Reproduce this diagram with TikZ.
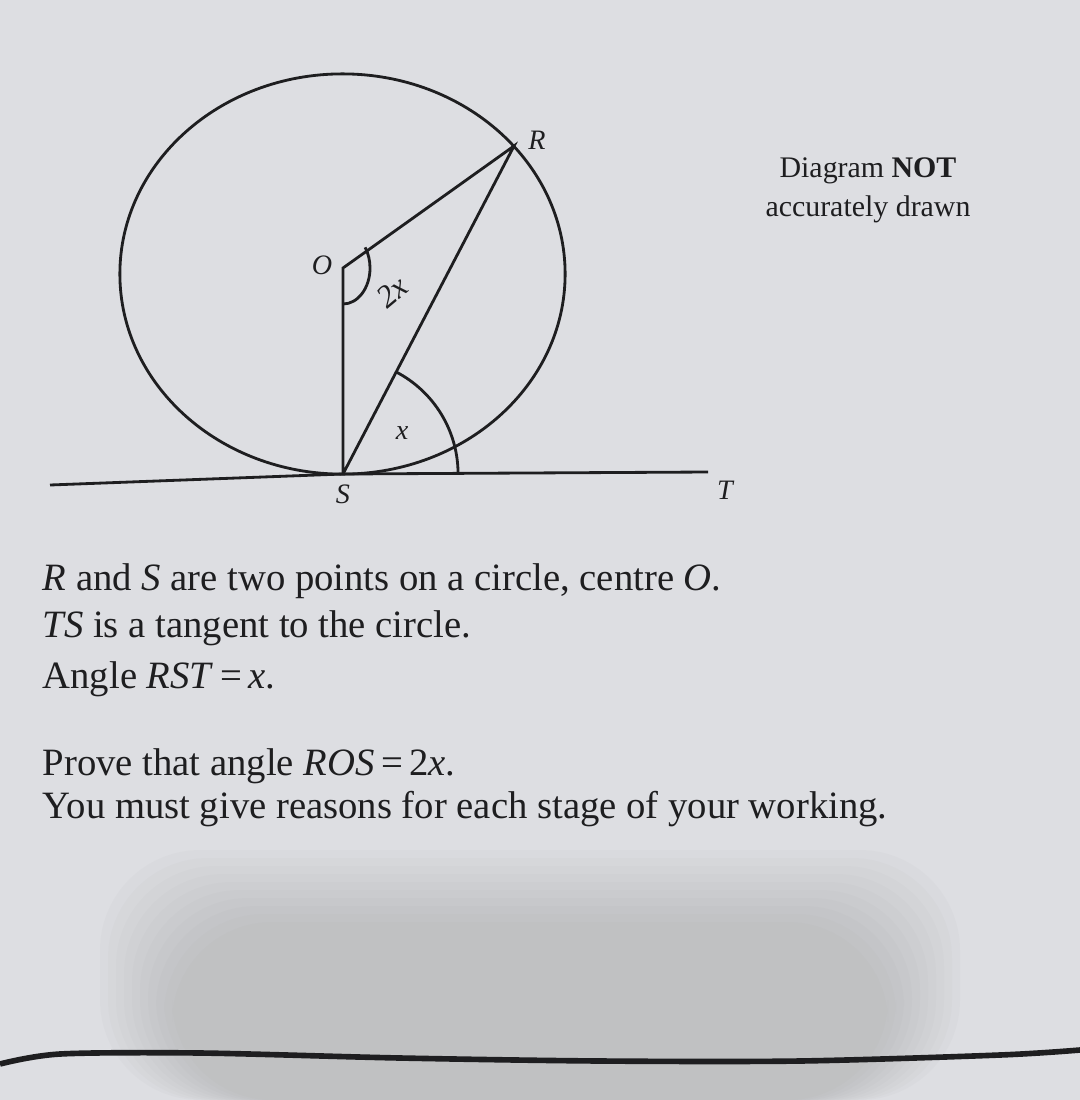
\documentclass[tikz,border=0pt]{standalone}
\usepackage{fontspec}
\setmainfont{Liberation Serif}
\usetikzlibrary{positioning, calc}
\definecolor{Paper}{RGB}{221,222,226}
\definecolor{Ink}{RGB}{30,30,32}
\definecolor{Shade}{RGB}{150,152,150}

\begin{document}
\begin{tikzpicture}[
        x=0.01cm, y=-0.01cm,
        every node/.style={text=Ink, inner sep=0pt},
        figline/.style={draw=Ink, line width=0.8pt},
        lbl/.style={font=\fontsize{8}{8}\selectfont\itshape},
        bodytext/.style={anchor=base west, font=\fontsize{11}{13}\selectfont}
    ]
        % Paper
        \fill[Paper] (0,0) rectangle (1080,1100);
        \useasboundingbox (0,0) rectangle (1080,1100);
        
        % Shadow at the bottom
        \foreach \i in {0,...,9}
            \fill[Shade, opacity=0.045, rounded corners=1cm] ({100+\i*8},{850+\i*8}) rectangle ({960-\i*8},1100);
        
        % Points
        \coordinate (S) at (343,474);
        \coordinate (O) at (343,268);
        \coordinate (R) at (514,146);
        \coordinate (C) at (342.5,274);
        \coordinate (TL) at (50,485);
        \coordinate (TR) at (708,472);
        
        % Circle and tangent
        \draw[figline] (C) ellipse [x radius=2.225cm, y radius=2cm];
        \draw[figline] (TL) -- (S) -- (TR);
        
        % Radii and chord
        \draw[figline] (S) -- (O) -- (R) -- (S);
        
        % Angle marks
        \draw[figline] ($(S)+(1.15cm,0)$) arc[start angle=0, end angle=62.5, radius=1.15cm];
        \draw[figline] ($(O)+(0,-0.36cm)$) arc[start angle=-90, end angle=35, x radius=0.27cm, y radius=0.36cm];
        
        % Labels
        \node[lbl] (Rlbl) at (537,140) {R};
        \node[lbl] (Olbl) at (322,265) {O};
        \node[lbl] (Slbl) at (343,494) {S};
        \node[lbl] (Tlbl) at (725,490) {T};
        \node[lbl] (xlbl) at (402,433) {x};
        \node[lbl, font=\fontsize{9}{9}\selectfont\itshape, rotate=40] (twox) at (392,292) {2x};
        
        % Note
        \node[font=\fontsize{8.5}{11}\selectfont, align=center] (note) at (868,190) {Diagram \textbf{NOT}\\accurately drawn};
        
        % Question text
        \node[bodytext] (line1) at (42,590) {\textit{R} and \textit{S} are two points on a circle, centre \textit{O}.};
        \node[bodytext] (line2) at (42,637) {\textit{TS} is a tangent to the circle.};
        \node[bodytext] (line3) at (42,688) {Angle \textit{RST}\,=\,\textit{x}.};
        \node[bodytext] (line4) at (42,775) {Prove that angle \textit{ROS}\,=\,2\textit{x}.};
        \node[bodytext] (line5) at (42,818) {You must give reasons for each stage of your working.};
        
        % Answer line
        \draw[Ink, line width=1.6pt] plot[smooth] coordinates {(0,1064) (60,1054) (200,1053) (400,1058) (600,1061) (800,1061) (1000,1055) (1080,1050)};
    \end{tikzpicture}
\end{document}
